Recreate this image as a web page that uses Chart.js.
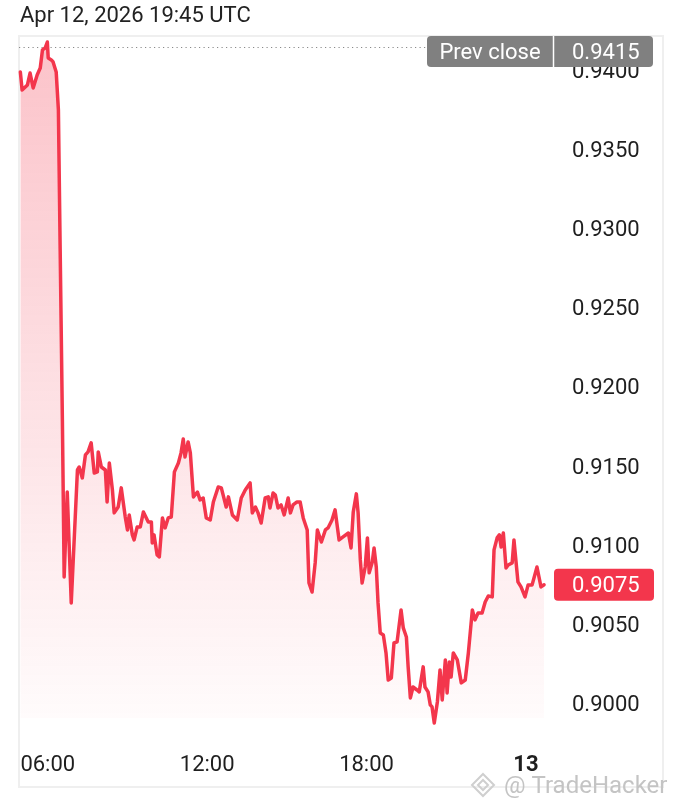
<!DOCTYPE html>
<html><head><meta charset="utf-8">
<script src="https://cdn.jsdelivr.net/npm/chart.js@4.4.1/dist/chart.umd.min.js"></script>
<style>
html,body{margin:0;padding:0;background:#fff;}
#wrap{position:relative;width:682px;height:811px;overflow:hidden;}
#title{position:absolute;left:20px;top:2px;font:22px Roboto, sans-serif;color:#222;line-height:26px;white-space:nowrap;}
canvas{position:absolute;left:0;top:0;}
</style></head><body>
<div id="wrap"><canvas id="c" width="682" height="811"></canvas><div id="title">Apr 12, 2026 19:45 UTC</div></div>
<script>
// ---- data (UTC times; after midnight rolls into Apr 13) ----
const times = [
'04:58','05:02','05:14','05:20','05:27','05:36','05:43','05:48','05:54','05:59',
'06:01','06:08','06:12','06:19','06:24','06:28','06:33','06:37','06:44','06:53',
'07:07','07:11','07:18','07:25','07:31','07:38','07:45','07:52','07:54','08:01',
'08:10','08:14','08:19','08:26','08:30','08:39','08:46','08:55','09:00','09:04',
'09:11','09:15','09:22','09:29','09:36','09:47','09:54','09:56','10:00','10:07',
'10:12','10:19','10:25','10:32','10:39','10:46','10:55','11:01','11:06','11:10',
'11:17','11:22','11:29','11:38','11:44','11:51','11:58','12:07','12:14','12:25',
'12:32','12:43','12:48','12:57','13:08','13:17','13:26','13:37','13:42','13:49',
'13:55','14:02','14:11','14:18','14:22','14:29','14:34','14:40','14:47','14:54',
'15:03','15:08','15:14','15:23','15:30','15:37','15:46','15:50','15:57','16:04',
'16:09','16:18','16:27','16:33','16:42','16:49','16:58','17:07','17:19','17:25',
'17:30','17:37','17:41','17:46','17:50','17:57','18:02','18:06','18:13','18:17',
'18:22','18:26','18:31','18:38','18:44','18:49','18:56','19:02','19:09','19:18',
'19:23','19:30','19:34','19:39','19:45','19:54','19:59','20:08','20:12','20:19',
'20:24','20:28','20:33','20:40','20:46','20:51','20:58','21:02','21:07','21:11',
'21:16','21:25','21:34','21:43','21:50','21:59','22:05','22:12','22:21','22:28',
'22:35','22:44','22:48','22:55','23:00','23:04','23:09','23:15','23:20','23:29',
'23:33','23:42','23:49','23:58','00:05','00:14','00:25','00:34','00:41'
];
const prices = [
0.93990,0.93876,0.93908,0.93983,0.93889,0.93971,0.94015,0.94129,0.94141,0.94179,
0.94078,0.94066,0.94053,0.93990,0.93750,0.92865,0.91791,0.90799,0.91336,0.90635,
0.91475,0.91494,0.91425,0.91570,0.91589,0.91646,0.91456,0.91463,0.91589,0.91494,
0.91475,0.91273,0.91519,0.91349,0.91204,0.91241,0.91362,0.91178,0.91096,0.91191,
0.91065,0.91033,0.91115,0.91115,0.91210,0.91147,0.91147,0.91014,0.91065,0.90938,
0.90926,0.91172,0.91109,0.91172,0.91178,0.91463,0.91519,0.91583,0.91671,0.91557,
0.91652,0.91583,0.91305,0.91336,0.91286,0.91298,0.91172,0.91159,0.91273,0.91368,
0.91362,0.91241,0.91305,0.91191,0.91159,0.91298,0.91349,0.91393,0.91204,0.91241,
0.91204,0.91140,0.91298,0.91305,0.91235,0.91330,0.91317,0.91235,0.91254,0.91191,
0.91298,0.91204,0.91254,0.91273,0.91273,0.91172,0.91096,0.90761,0.90704,0.90888,
0.91096,0.91020,0.91096,0.91109,0.91159,0.91223,0.91033,0.91052,0.91077,0.90982,
0.91210,0.91324,0.91204,0.90907,0.90761,0.90862,0.91046,0.90825,0.90894,0.90982,
0.90862,0.90635,0.90445,0.90433,0.90319,0.90148,0.90161,0.90382,0.90389,0.90591,
0.90477,0.90420,0.90231,0.90035,0.90104,0.90085,0.90073,0.90231,0.90104,0.90073,
0.89991,0.89978,0.89877,0.90009,0.90212,0.90022,0.90275,0.90066,0.90262,0.90167,
0.90319,0.90275,0.90130,0.90148,0.90319,0.90591,0.90528,0.90572,0.90572,0.90641,
0.90679,0.90673,0.90970,0.91046,0.91065,0.90989,0.91077,0.90856,0.90875,0.90888,
0.91033,0.90768,0.90736,0.90673,0.90749,0.90749,0.90862,0.90736,0.90750
];
const xTickTimes = ['06:00','12:00','18:00','24:00'];
const xTickLabels = ['06:00','12:00','18:00','13'];
const yTicks = [0.9000,0.9050,0.9100,0.9150,0.9200,0.9250,0.9300,0.9350,0.9400];
const prevClose = 0.9415;
const prevCloseLabel = 'Prev close';
const watermark = '@ TradeHacker';
const xRange = ['04:55','25:17'];
const yRange = [0.89908, 0.94217];

// ---- helpers ----
const RED = '#f3364c';
const FONT = 'Roboto, "Noto Sans", sans-serif';
function toMin(t){const p=t.split(':').map(Number);return p[0]*60+p[1];}
let dayOff=0, prevM=-1;
const xs = times.map(t=>{let v=toMin(t)+dayOff; if(v<prevM){dayOff+=1440;v+=1440;} prevM=v; return v;});
const xTickMin = xTickTimes.map(toMin);
const lastPrice = prices[prices.length-1];

function rr(ctx,x,y,w,h,r){
  ctx.beginPath();
  ctx.moveTo(x+r,y);ctx.lineTo(x+w-r,y);ctx.quadraticCurveTo(x+w,y,x+w,y+r);
  ctx.lineTo(x+w,y+h-r);ctx.quadraticCurveTo(x+w,y+h,x+w-r,y+h);
  ctx.lineTo(x+r,y+h);ctx.quadraticCurveTo(x,y+h,x,y+h-r);
  ctx.lineTo(x,y+r);ctx.quadraticCurveTo(x,y,x+r,y);ctx.closePath();
}

const decor = {
  id:'decor',
  beforeDraw(chart){
    const c=chart.ctx; c.save();
    c.strokeStyle='#efefef'; c.lineWidth=2;
    c.strokeRect(19,36,644,751);
    c.restore();
  },
  beforeDatasetsDraw(chart){
    const c=chart.ctx, y=chart.scales.y.getPixelForValue(prevClose);
    c.save(); c.strokeStyle='#8a8a8a'; c.lineWidth=1.2; c.setLineDash([1.2,3.3]);
    c.beginPath(); c.moveTo(chart.chartArea.left, Math.round(y)+0.5); c.lineTo(650, Math.round(y)+0.5); c.stroke();
    c.restore();
  },
  afterDraw(chart){
    const c=chart.ctx, ys=chart.scales.y, area=chart.chartArea;
    c.save();
    // prev close box
    const py=ys.getPixelForValue(prevClose);
    const bTop=Math.max(area.top, py-15.5);
    c.fillStyle='#808080'; rr(c,427,bTop,226,31,4); c.fill();
    c.strokeStyle='#ffffff'; c.lineWidth=1.5; c.beginPath(); c.moveTo(553.5,bTop); c.lineTo(553.5,bTop+31); c.stroke();
    c.fillStyle='#ffffff'; c.font='22px '+FONT; c.textBaseline='middle';
    c.textAlign='center'; c.fillText(prevCloseLabel,490,bTop+17);
    c.textAlign='left'; c.fillText(prevClose.toFixed(4),572,bTop+17);
    // current price box
    const ly=ys.getPixelForValue(lastPrice);
    c.fillStyle=RED; rr(c,554,ly-16,100,32,4); c.fill();
    c.fillStyle='#ffffff'; c.textAlign='left'; c.fillText(lastPrice.toFixed(4),572,ly+2);
    // watermark
    c.strokeStyle='#cfcfcf'; c.lineWidth=2;
    c.beginPath(); c.moveTo(483,774); c.lineTo(494,785); c.lineTo(483,796); c.lineTo(472,785); c.closePath(); c.stroke();
    c.beginPath(); c.moveTo(483,780); c.lineTo(488,785); c.lineTo(483,790); c.lineTo(478,785); c.closePath(); c.stroke();
    c.fillStyle='#c4c4c4'; c.font='24px '+FONT; c.textAlign='left'; c.textBaseline='middle';
    c.fillText(watermark,504,787);
    c.restore();
  }
};

new Chart(document.getElementById('c'),{
  type:'line',
  data:{datasets:[{
    data: xs.map((x,i)=>({x:x,y:prices[i]})),
    borderColor:RED, borderWidth:3.5, pointRadius:0, tension:0,
    borderJoinStyle:'round', borderCapStyle:'round',
    fill:'start', clip:false,
    backgroundColor:(ctx)=>{
      const a=ctx.chart.chartArea; if(!a) return 'rgba(243,54,76,0.15)';
      const g=ctx.chart.ctx.createLinearGradient(0,a.top,0,a.bottom);
      g.addColorStop(0,'rgba(243,54,76,0.30)');
      g.addColorStop(1,'rgba(243,54,76,0.02)');
      return g;
    }
  }]},
  options:{
    responsive:false, animation:false, devicePixelRatio:1,
    layout:{padding:{left:19,top:36,right:19,bottom:0}},
    plugins:{legend:{display:false},tooltip:{enabled:false}},
    scales:{
      x:{type:'linear', min:toMin(xRange[0]), max:toMin(xRange[1]),
        grid:{display:false,drawTicks:false}, border:{display:false},
        afterBuildTicks:s=>{s.ticks=xTickMin.map(v=>({value:v}));},
        afterFit:s=>{s.height=93; s.paddingLeft=0; s.paddingRight=0;},
        ticks:{autoSkip:false,maxRotation:0,padding:34,color:'#1f1f1f',
          font:(c)=>({family:FONT,size:22,weight:(c.tick&&c.tick.value===1440)?'bold':'normal'}),
          callback:(v,i)=>xTickLabels[i]}
      },
      y:{position:'right', min:yRange[0], max:yRange[1],
        grid:{display:false,drawTicks:false}, border:{display:false},
        afterBuildTicks:s=>{s.ticks=yTicks.map(v=>({value:v}));},
        afterFit:s=>{s.width=103; s.paddingTop=0; s.paddingBottom=0;},
        ticks:{padding:12,labelOffset:2,color:'#1f1f1f',font:{family:FONT,size:22},callback:v=>Number(v).toFixed(4)}
      }
    }
  },
  plugins:[decor]
});
</script>
</body></html>
